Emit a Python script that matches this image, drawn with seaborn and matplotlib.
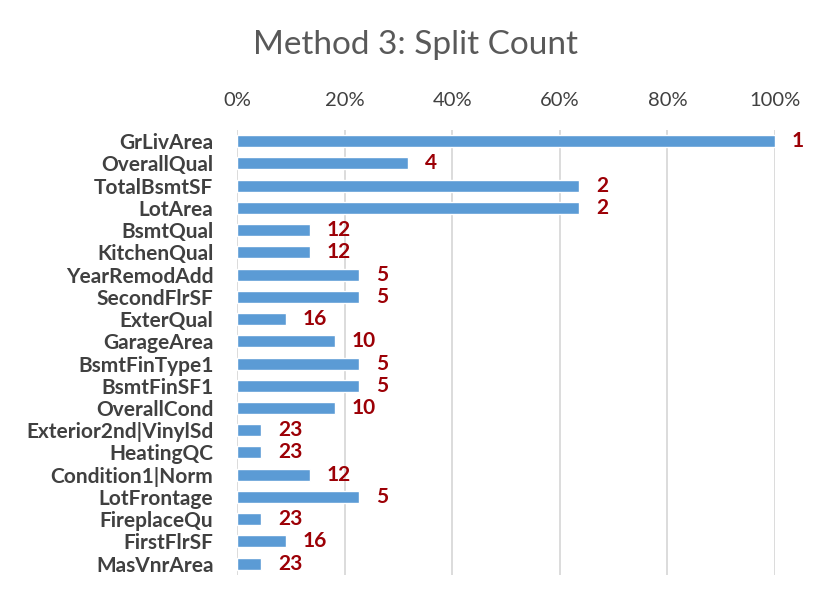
import matplotlib
matplotlib.use("Agg")
import matplotlib.pyplot as plt
import seaborn as sns
import pandas as pd
from matplotlib.ticker import PercentFormatter

features = ["GrLivArea", "OverallQual", "TotalBsmtSF", "LotArea", "BsmtQual",
            "KitchenQual", "YearRemodAdd", "SecondFlrSF", "ExterQual", "GarageArea",
            "BsmtFinType1", "BsmtFinSF1", "OverallCond", "Exterior2nd|VinylSd",
            "HeatingQC", "Condition1|Norm", "LotFrontage", "FireplaceQu",
            "FirstFlrSF", "MasVnrArea"]
share = [100.0, 31.8, 63.6, 63.6, 13.6, 13.6, 22.7, 22.7, 9.1, 18.2,
         22.7, 22.7, 18.2, 4.5, 4.5, 13.6, 22.7, 4.5, 9.1, 4.5]
rank = [1, 4, 2, 2, 12, 12, 5, 5, 16, 10, 5, 5, 10, 23, 23, 12, 5, 23, 16, 23]
xticks = [0, 20, 40, 60, 80, 100]

sns.set_theme(style="white")
plt.rcParams["font.family"] = ["Lato", "DejaVu Sans"]

df = pd.DataFrame({"feature": features, "share": share})

fig = plt.figure(figsize=(8.31, 6.05), dpi=100)
ax = fig.add_axes([0.2852, 0.05, 0.6474, 0.735])
sns.barplot(data=df, y="feature", x="share", orient="h", color="#5B9BD5",
            saturation=1, width=0.54, ax=ax)

ax.set_xlim(0, 100)
ax.set_xticks(xticks)
ax.xaxis.set_major_formatter(PercentFormatter(decimals=0))
ax.xaxis.tick_top()
ax.tick_params(axis="x", length=0, pad=15, labelsize=14.5, labelcolor="#404040")
ax.tick_params(axis="y", length=0, pad=17, labelsize=15, labelcolor="#404040")
for lab in ax.get_yticklabels():
    lab.set_fontweight("bold")
ax.grid(axis="x", color="#D9D9D9", linewidth=1.3)
ax.set_axisbelow(True)
for s in ax.spines.values():
    s.set_visible(False)
ax.set_xlabel("")
ax.set_ylabel("")

ax.bar_label(ax.containers[0], labels=[str(r) for r in rank], padding=12,
             color="#9C0006", fontsize=15, fontweight="bold")

fig.text(0.5, 0.926, "Method 3: Split Count", ha="center", va="center",
         fontsize=24, color="#595959")

fig.savefig("out.png", dpi=100)
